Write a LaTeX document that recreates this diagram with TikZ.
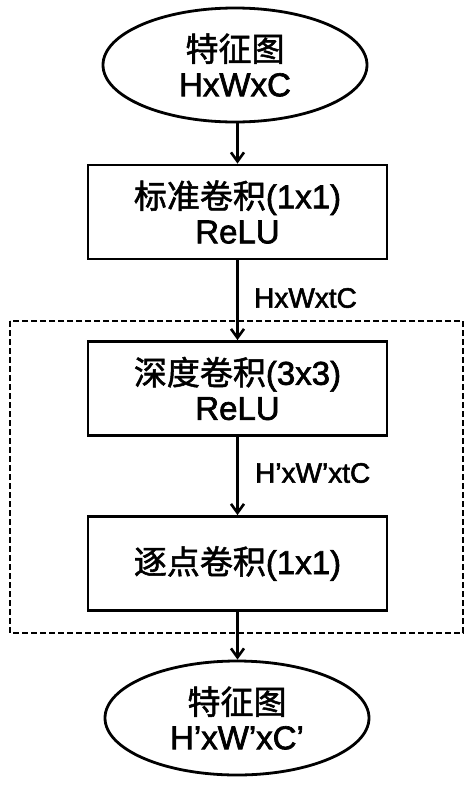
\documentclass[tikz,border=0pt]{standalone}
\usepackage{fontspec}
\setmainfont{Liberation Sans}[FakeBold=2]
\newfontfamily\cjk{Noto Sans CJK SC}[FakeBold=1.6]
\usetikzlibrary{shapes.geometric,arrows.meta}
\begin{document}
\begin{tikzpicture}[x=1pt,y=-1pt,
  txt/.style={font=\fontsize{33}{38}\selectfont, align=center},
  lbl/.style={font=\fontsize{28}{32}\selectfont, anchor=west, inner sep=0pt},
  oval/.style={draw, line width=2.8pt, ellipse, minimum width=264pt, minimum height=114pt, inner sep=0pt, txt},
  stepbox/.style={draw, line width=2.8pt, rectangle, minimum width=299pt, minimum height=94pt, inner sep=0pt, txt},
  conn/.style={line width=2.6pt, -{Straight Barb[length=9pt,width=13pt,line width=2.6pt]}},
  group/.style={draw, line width=2.2pt, dash pattern=on 6pt off 3pt}]
\useasboundingbox (0,0) rectangle (474,785);
\node[oval] (in) at (235,65) {{\cjk 特征图}\\[-3pt]HxWxC};
\node[stepbox] (b1) at (237.5,212) {{\cjk 标准卷积}(1x1)\\[-3pt]ReLU};
\draw[group] (10,321) rectangle (463,633);
\node[stepbox] (b2) at (237.5,388.5) {{\cjk 深度卷积}(3x3)\\[-3pt]ReLU};
\node[stepbox] (b3) at (237.5,563.5) {{\cjk 逐点卷积}(1x1)};
\node[oval] (out) at (237,718) {{\cjk 特征图}\\[-3pt]H’xW’xC’};
\draw[conn] (in.south -| b1.north) -- (b1.north);
\draw[conn] (b1) -- (b2);
\draw[conn] (b2) -- (b3);
\draw[conn] (b3.south) -- (out.north -| b3.south);
\node[lbl] (l1) at (254,298) {HxWxtC};
\node[lbl] (l2) at (255,473) {H’xW’xtC};
\end{tikzpicture}
\end{document}
